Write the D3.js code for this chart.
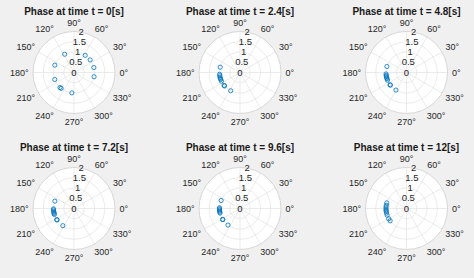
<!DOCTYPE html>
<html><head><meta charset="utf-8">
<script src="https://cdn.jsdelivr.net/npm/d3@7"></script>
<style>body{margin:0;background:#f0f0f0} svg{display:block}</style>
</head><body>
<script>
// ---- data ----
const times = ["0", "2.4", "4.8", "7.2", "9.6", "12"];
const phase_t0  = [14, 38, 57, 117, 159, 200, 227, 231, 264, 348];
const phase_t24 = [165, 185, 189, 193, 197, 200, 205, 219, 221, 243];
const phase_t48 = [163, 184, 188, 191, 195, 198, 202, 217, 218, 239];
const phase_t72 = [159, 181, 184, 188, 191, 194, 197, 213, 214, 237];
const phase_t96 = [157, 178, 181, 184, 187, 190, 193, 212, 213, 234];
const phase_t12 = [164, 171, 176, 181, 185, 188, 193, 199, 210, 217];
const amplitude = [1, 1, 1, 1, 1, 1, 1, 1, 1, 1];
const rTicks = [0, 0.5, 1, 1.5, 2];
const rTickLabels = ["0", "0.5", "1", "1.5", "2"];
const thetaTicks = [0, 30, 60, 90, 120, 150, 180, 210, 240, 270, 300, 330];
const phases = [phase_t0, phase_t24, phase_t48, phase_t72, phase_t96, phase_t12];

// ---- layout ----
const W = 474, H = 278;
const colX = [74, 240, 406.5], rowY = [72.5, 208.5];
const R = 41;
const font = "'Liberation Sans', Arial, Helvetica, sans-serif";

const svg = d3.select("body").append("svg").attr("width", W).attr("height", H);
svg.append("rect").attr("width", W).attr("height", H).attr("fill", "#f0f0f0");

const r = d3.scaleLinear().domain([0, 2]).range([0, R]);
const ang = d3.scaleLinear().domain([0, 360]).range([0, 2 * Math.PI]);
const px = (rv, deg) => r(rv) * Math.cos(ang(deg));
const py = (rv, deg) => -r(rv) * Math.sin(ang(deg));

phases.forEach((ph, i) => {
  const cx = colX[i % 3], cy = rowY[Math.floor(i / 3)];
  const g = svg.append("g").attr("transform", `translate(${cx},${cy})`);

  g.append("circle").attr("r", r(2)).attr("fill", "#ffffff");
  g.selectAll("circle.ring").data(rTicks.filter(d => d > 0 && d < 2)).enter()
    .append("circle").attr("class", "ring").attr("r", d => r(d))
    .attr("fill", "none").attr("stroke", "#dedede").attr("stroke-width", 0.6);
  g.selectAll("line.spoke").data(thetaTicks).enter().append("line")
    .attr("x1", 0).attr("y1", 0)
    .attr("x2", d => px(2, d)).attr("y2", d => py(2, d))
    .attr("stroke", "#dedede").attr("stroke-width", 0.6);
  g.append("circle").attr("r", r(2)).attr("fill", "none")
    .attr("stroke", "#c8c8c8").attr("stroke-width", 0.7);

  g.selectAll("text.rl").data(rTicks).enter().append("text")
    .attr("x", d => px(d, 80)).attr("y", d => py(d, 80) - 0.5)
    .attr("text-anchor", "middle").attr("dominant-baseline", "central")
    .attr("font-family", font).attr("font-size", 9.5).attr("fill", "#262626")
    .text((d, j) => rTickLabels[j]);

  g.selectAll("circle.pt").data(ph).enter().append("circle")
    .attr("cx", (d, j) => px(amplitude[j], d)).attr("cy", (d, j) => py(amplitude[j], d))
    .attr("r", 2.1).attr("fill", "none").attr("stroke", "#0072BD").attr("stroke-width", 0.8);

  const D = R + 4;
  g.selectAll("text.tl").data(thetaTicks).enter().append("text")
    .attr("font-family", font).attr("font-size", 9).attr("fill", "#262626")
    .attr("text-anchor", "middle").attr("dominant-baseline", "central")
    .text(d => d + "°")
    .each(function(d) {
      const w = this.getComputedTextLength();
      const c = Math.cos(ang(d)), s = Math.sin(ang(d));
      const sc = Math.abs(c) < 1e-9 ? 0 : Math.sign(c) * Math.sqrt(Math.abs(c));
      const ss = Math.abs(s) < 1e-9 ? 0 : Math.sign(s) * Math.sqrt(Math.abs(s));
      d3.select(this).attr("x", D * c + (w / 2 + 0.5) * sc)
        .attr("y", -(D * s + 4.5 * ss));
    });

  g.append("text").attr("x", 0).attr("y", -61.5)
    .attr("text-anchor", "middle").attr("dominant-baseline", "central")
    .attr("font-family", font).attr("font-size", 10).attr("font-weight", "bold")
    .attr("fill", "#1a1a1a")
    .text(`Phase at time t = ${times[i]}[s]`);
});
</script>
</body></html>
